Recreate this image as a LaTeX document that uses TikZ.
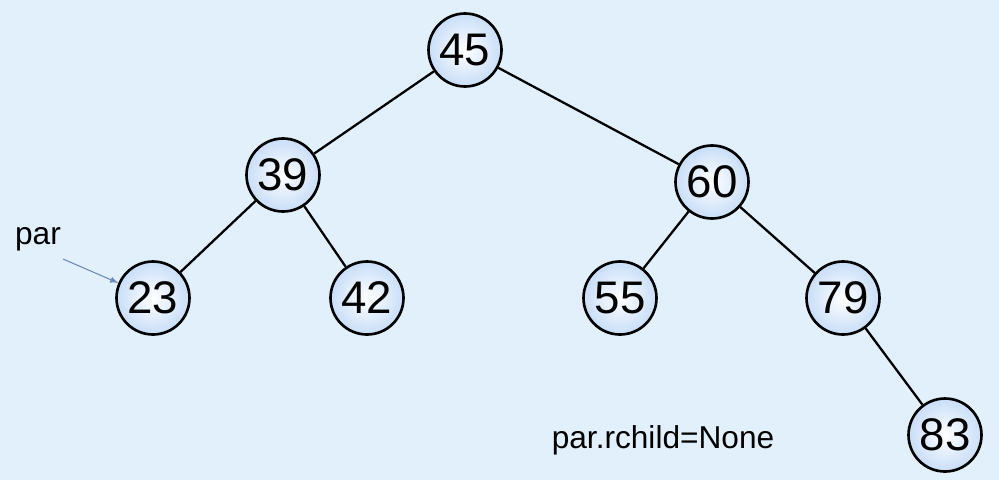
\documentclass[tikz,border=0pt]{standalone}
\usepackage{fontspec}
\setmainfont{Liberation Sans}
\definecolor{bgblue}{RGB}{226,240,252}
\definecolor{nodeblue}{RGB}{200,222,248}
\definecolor{arrowblue}{RGB}{110,135,185}
\tikzstyle{key} = [circle, draw=black, line width=1.5pt, minimum size=1.46cm, inner sep=0pt,
  inner color=white, outer color=nodeblue, font=\fontsize{26}{26}\selectfont]
\tikzstyle{edge} = [line width=1.3pt]

\begin{document}
\begin{tikzpicture}
  \fill [bgblue] (0,0) rectangle (19.98,9.6);
  \node (n45) at (9.30,8.60) [key] {45};
  \node (n39) at (5.66,6.10) [key] {39};
  \node (n60) at (14.24,5.96) [key] {60};
  \node (n23) at (3.06,3.64) [key] {23};
  \node (n42) at (7.34,3.64) [key] {42};
  \node (n55) at (12.40,3.64) [key] {55};
  \node (n79) at (16.86,3.64) [key] {79};
  \node (n83) at (18.90,0.90) [key] {83};

  \draw [edge] (n45) -- (n39);
  \draw [edge] (n45) -- (n60);
  \draw [edge] (n39) -- (n23);
  \draw [edge] (n39) -- (n42);
  \draw [edge] (n60) -- (n55);
  \draw [edge] (n60) -- (n79);
  \draw [edge] (n79) -- (n83);

  \node (par) at (0.76,4.82) {\fontsize{18}{18}\selectfont par};
  \coordinate (parstart) at (1.26,4.42);
  \draw [->, >=latex, arrowblue, line width=0.6pt] (parstart) -- (n23);
  \node (note) at (13.26,0.80) {\fontsize{18}{18}\selectfont par.rchild=None};
\end{tikzpicture}
\end{document}
